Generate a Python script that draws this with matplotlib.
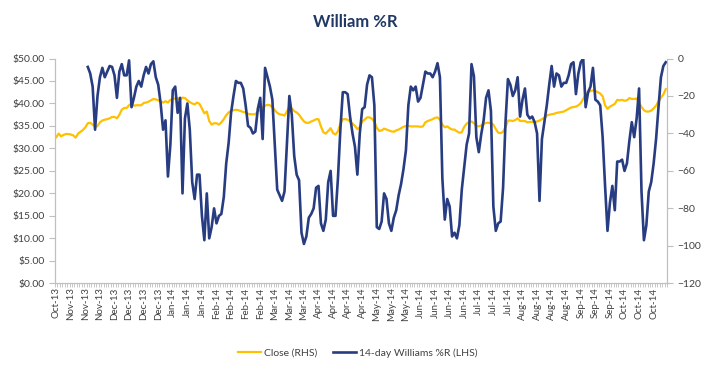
import numpy as np
import matplotlib
matplotlib.use("Agg")
import matplotlib.pyplot as plt
from matplotlib.ticker import FuncFormatter

plt.rcParams['font.family'] = ['Lato', 'DejaVu Sans']

# daily close, $ (left axis)
close = [
    32.5, 33.3, 32.7, 33.0, 33.2, 33.2, 33.1, 32.9, 32.4, 33.3,
    33.7, 34.1, 34.7, 35.6, 35.7, 35.3, 34.7, 35.0, 35.8, 36.2,
    36.4, 36.5, 36.7, 37.0, 37.0, 36.7, 37.5, 38.6, 39.0, 39.0,
    39.6, 40.0, 39.5, 39.6, 39.6, 39.6, 40.1, 40.2, 40.4, 40.7,
    41.0, 40.9, 40.7, 40.5, 40.2, 40.5, 40.2, 40.8, 41.0, 41.1,
    41.2, 40.8, 41.3, 41.2, 40.7, 40.3, 40.0, 39.8, 40.2, 39.9,
    38.9, 37.8, 38.2, 36.1, 35.3, 35.6, 35.6, 35.3, 35.8, 36.5,
    37.4, 38.0, 38.4, 38.5, 38.6, 38.5, 38.3, 38.1, 38.0, 37.7,
    37.6, 37.6, 37.6, 38.2, 38.6, 39.1, 39.5, 39.7, 39.6, 39.2,
    38.5, 37.9, 37.6, 37.5, 37.3, 38.2, 39.3, 38.9, 38.3, 38.0,
    37.5, 36.7, 36.0, 35.7, 35.7, 36.0, 36.2, 36.5, 36.5, 34.9,
    33.6, 33.3, 33.9, 34.5, 33.4, 33.1, 33.8, 35.5, 36.5, 36.5,
    36.4, 36.0, 35.5, 35.0, 34.3, 34.7, 36.0, 36.4, 36.9, 36.9,
    36.6, 36.0, 34.6, 33.9, 34.0, 34.4, 34.2, 34.0, 33.8, 33.7,
    34.0, 34.2, 34.5, 34.8, 35.0, 35.0, 34.9, 34.9, 34.9, 34.9,
    34.8, 34.9, 35.8, 36.1, 36.3, 36.5, 36.8, 36.9, 36.4, 35.3,
    34.7, 34.9, 34.5, 34.2, 34.2, 33.8, 33.5, 33.6, 34.8, 35.5,
    35.9, 36.0, 35.6, 35.0, 34.9, 35.1, 35.4, 35.7, 35.7, 35.6,
    35.3, 34.3, 33.5, 33.4, 33.7, 34.7, 36.2, 36.2, 36.1, 36.3,
    36.7, 36.1, 36.1, 36.1, 35.8, 35.9, 35.9, 35.8, 36.0, 36.2,
    36.5, 36.8, 37.3, 37.5, 37.6, 37.7, 37.9, 38.0, 38.1, 38.2,
    38.5, 38.8, 39.1, 39.2, 39.3, 39.6, 40.1, 41.0, 41.9, 42.4,
    42.8, 42.9, 42.8, 42.5, 42.2, 41.6, 39.6, 38.8, 39.3, 39.6,
    39.9, 40.8, 40.7, 40.8, 40.6, 40.7, 41.2, 41.0, 41.0, 41.1,
    40.2, 39.2, 38.5, 38.2, 38.2, 38.4, 38.9, 39.5, 40.5, 41.3,
    42.0, 43.2,
]

# 14-day Williams %R (right axis), first 13 days undefined
williams = [np.nan] * 13 + [
    -4.5, -8, -15, -38, -20, -10, -5,
    -10, -7, -4, -4.5, -9, -21, -7, -3, -9, -9,
    -1, -26, -21, -15, -12, -15, -9, -4.5, -8, -3,
    -1.5, -10, -14, -24, -38, -33, -63, -46, -17, -15,
    -29, -21, -72, -32, -24, -38, -66, -75, -62, -62,
    -84, -97, -72, -96, -90, -80, -88, -84, -83, -74,
    -56, -45, -29, -20, -12, -13, -13, -16, -25, -36,
    -37, -40, -39, -27, -21, -43, -5, -10, -15, -22,
    -46, -70, -73, -76, -71, -46, -20, -30, -52, -62,
    -65, -93, -99, -95, -85, -83, -80, -69, -68, -88,
    -92, -86, -66, -60, -84, -84, -64, -38, -18, -18,
    -19, -31, -40, -47, -62, -40, -27, -26, -14, -9,
    -10, -25, -90, -91, -87, -72, -75, -88, -92, -85,
    -81, -73, -67, -59, -49, -25, -15, -17, -15, -23,
    -21, -14, -7, -8, -8, -10, -7, -2.5, -10, -64,
    -86, -75, -79, -95, -93, -96, -89, -70, -58, -46,
    -40, -3, -9.5, -42, -50, -40.5, -33, -21, -17, -28,
    -79, -92, -88, -87, -69, -34, -11, -14, -20, -17,
    -10, -31, -22, -16, -30, -32, -31, -34, -40, -76,
    -43, -34, -25, -14, -4, -15, -8, -9, -15, -13,
    -13, -9, -3, -2, -19, -8, -2, 0, -26, -18,
    -15, -5, -22, -23, -25, -42, -68, -92, -77, -68,
    -81, -55, -55, -54, -60, -56, -44, -34, -42, -32,
    -16, -71, -97, -89, -71, -66, -56, -43, -26, -10,
    -4, -2,
]

# x-axis labels, one every 6 trading days
tick_labels = (["Oct-13"] + ["Nov-13"] * 3 + ["Dec-13"] * 4 + ["Jan-14"] * 3 +
               ["Feb-14"] * 4 + ["Mar-14"] * 3 + ["Apr-14"] * 4 + ["May-14"] * 3 +
               ["Jun-14"] * 4 + ["Jul-14"] * 3 + ["Aug-14"] * 4 + ["Sep-14"] * 3 +
               ["Oct-14"] * 3)

n = len(close)
x = np.arange(n)
axis_col = "#BFBFBF"
txt_col = "#404040"

fig = plt.figure(figsize=(7.1, 3.75), dpi=100)
ax = fig.add_axes([55 / 710, 1 - 283.3 / 375, 612 / 710, 224.8 / 375])
l1, = ax.plot(x, close, color="#FFC000", lw=1.6, label="Close (RHS)")
ax.set_xlim(-0.5, n - 0.5)
ax.set_ylim(0, 50)
ax.set_yticks(np.arange(0, 51, 5))
ax.yaxis.set_major_formatter(FuncFormatter(lambda v, p: f"${v:.2f}"))

ax2 = ax.twinx()
l2, = ax2.plot(x, williams, color="#283C82", lw=1.9, label="14-day Williams %R (LHS)")
ax2.set_ylim(-120, 0)
ax2.set_yticks(np.arange(-120, 1, 20))

pos = np.arange(0, 6 * len(tick_labels), 6)
ax.set_xticks(pos)
ax.set_xticklabels(tick_labels, rotation=90, fontsize=7, color=txt_col)
ax.set_xticks(np.arange(-0.5, n, 1), minor=True)
ax.tick_params(axis="x", which="major", length=0, pad=3)
ax.tick_params(axis="x", which="minor", length=3, color=axis_col, direction="out")

for a in (ax, ax2):
    a.spines["top"].set_visible(False)
    for s in ("left", "right", "bottom"):
        a.spines[s].set_color(axis_col)
ax.tick_params(axis="y", length=4, color=axis_col, labelsize=7.5, labelcolor=txt_col)
ax2.tick_params(axis="y", length=4, color=axis_col, labelsize=7.5, labelcolor=txt_col)

fig.text(0.5, 1 - 22 / 375, "William %R", ha="center", va="center",
         fontsize=12, fontweight="bold", color="#203864")
fig.legend([l1, l2], [l1.get_label(), l2.get_label()], loc="center",
           bbox_to_anchor=(358 / 710, 1 - 353 / 375), ncol=2, frameon=False,
           fontsize=7.5, handlelength=2.2, columnspacing=1.5, handletextpad=0.3,
           labelcolor=txt_col)

fig.savefig("out.png", dpi=100)
